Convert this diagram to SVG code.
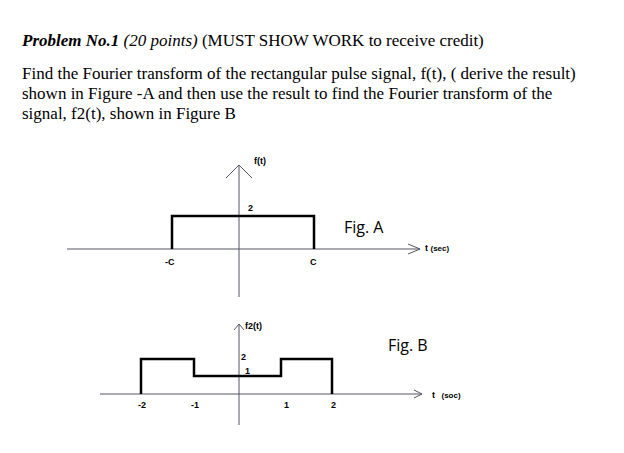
<svg xmlns="http://www.w3.org/2000/svg" width="624" height="453" viewBox="0 0 624 453">
<style>
.t{font-family:"Liberation Serif",serif;font-size:17px;fill:#000}
.s{font-family:"Liberation Sans",sans-serif;font-size:9px;font-weight:bold;fill:#000}
.f{font-family:"Open Sans","Liberation Sans",sans-serif;font-size:16px;fill:#000}
.ax{stroke:#556;stroke-width:1;fill:none}
.sig{stroke:#000;stroke-width:2.5;fill:none}
</style>
<rect width="624" height="453" fill="#fff"/>
<g id="text">
<text class="t" x="22" y="46"><tspan font-weight="bold" font-style="italic">Problem No.1</tspan><tspan font-style="italic"> (20 points)</tspan> (MUST SHOW WORK to receive credit)</text>
<text class="t" x="22" y="79">Find the Fourier transform of the rectangular pulse signal, f(t), ( derive the result)</text>
<text class="t" x="22" y="99">shown in Figure -A  and then use the result to find the Fourier transform of the</text>
<text class="t" x="22" y="119">signal, f2(t),  shown in Figure B</text>
</g>
<g id="figA">
<line class="ax" x1="67" y1="249" x2="420" y2="249"/>
<polyline class="ax" points="408,244 420,249 408,254"/>
<line class="ax" x1="239" y1="297" x2="239" y2="165"/>
<polyline class="ax" points="226,178 239,165 252,178"/>
<polyline class="sig" points="172,249 172,216 314,216 314,249"/>
<text class="s" x="254" y="164">f(t)</text>
<text class="s" x="248" y="211">2</text>
<text class="s" x="165" y="265">-C</text>
<text class="s" x="310" y="265">C</text>
<text class="s" x="425" y="251">t <tspan font-size="8">(sec)</tspan></text>
<text class="f" x="344" y="233">Fig. A</text>
</g>
<g id="figB">
<line class="ax" x1="100" y1="394" x2="422" y2="394"/>
<polyline class="ax" points="414,390 422,394 414,398"/>
<line class="ax" x1="239" y1="425" x2="239" y2="324"/>
<polyline class="ax" points="234,330 239,324 244,330"/>
<polyline class="sig" points="141,394 141,359 194,359 194,376 281,376 281,359 332,359 332,394"/>
<text class="s" x="245" y="329">f2(t)</text>
<text class="s" x="241" y="360">2</text>
<text class="s" x="245" y="374">1</text>
<text class="s" x="138" y="408">-2</text>
<text class="s" x="191" y="408">-1</text>
<text class="s" x="284" y="408">1</text>
<text class="s" x="331" y="408">2</text>
<text class="s" x="432" y="398">t <tspan font-size="8" dx="4">(soc)</tspan></text>
<text class="f" x="388" y="351">Fig. B</text>
</g>
</svg>
